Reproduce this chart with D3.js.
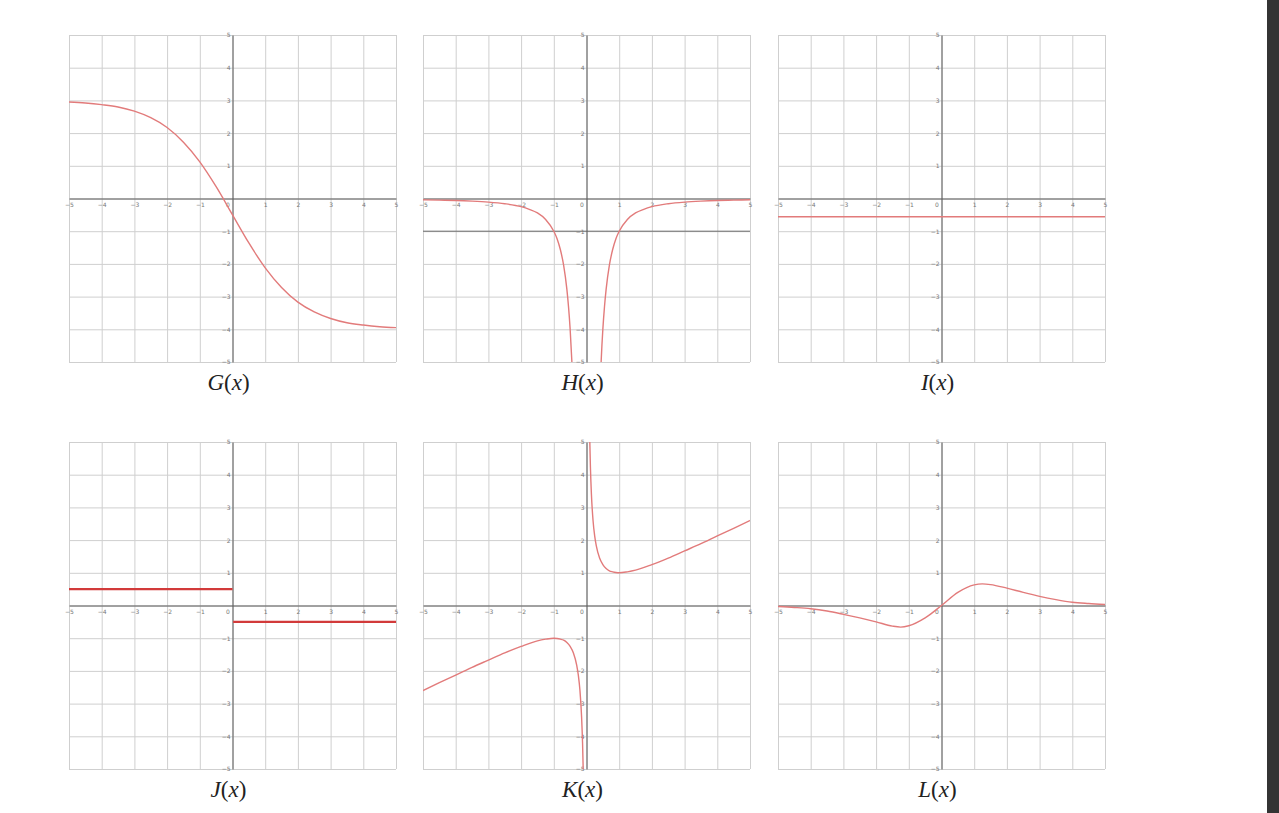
<!DOCTYPE html>
<html>
<head>
<meta charset="utf-8">
<script src="https://cdn.jsdelivr.net/npm/d3@7"></script>
<style>
  body { margin: 0; background: #fff; }
  .grid line { stroke: #cfcfcf; stroke-width: 1; }
  .grid path { display: none; }
  .lbl text { font-family: "DejaVu Sans", sans-serif; font-size: 6px; fill: #777; }
  .lbl line { display: none; }
  .lbl path { stroke: #5a5a5a; stroke-width: 1; }
  .title { font-family: "Liberation Serif", "DejaVu Serif", serif; font-size: 23px; fill: #222; }
</style>
</head>
<body>
<script>
// Panel names and tick values
var names = ["G", "H", "I", "J", "K", "L"];
var ticks = [-5, -4, -3, -2, -1, 0, 1, 2, 3, 4, 5];

// G(x): smooth step from 3 down to -4
var gX = [-5, -4.5, -4, -3.5, -3, -2.5, -2, -1.5, -1, -0.5, 0, 0.5, 1, 1.5, 2, 2.5, 3, 3.5, 4, 4.5, 5];
var gY = [2.95, 2.92, 2.87, 2.8, 2.67, 2.47, 2.17, 1.72, 1.12, 0.36, -0.5, -1.36, -2.12, -2.72, -3.17, -3.47, -3.67, -3.8, -3.87, -3.92, -3.95];

// H(x): two branches dropping to -infinity at 0
var hLeftX = [-5, -4.5, -4, -3.5, -3, -2.5, -2, -1.75, -1.5, -1.25, -1, -0.9, -0.8, -0.7, -0.6, -0.55, -0.5, -0.45, -0.43];
var hLeftY = [-0.04, -0.05, -0.06, -0.08, -0.11, -0.16, -0.25, -0.33, -0.44, -0.64, -1, -1.23, -1.56, -2.04, -2.78, -3.31, -4, -4.94, -5.41];
var hRightX = [0.43, 0.45, 0.5, 0.55, 0.6, 0.7, 0.8, 0.9, 1, 1.25, 1.5, 1.75, 2, 2.5, 3, 3.5, 4, 4.5, 5];
var hRightY = [-5.41, -4.94, -4, -3.31, -2.78, -2.04, -1.56, -1.23, -1, -0.64, -0.44, -0.33, -0.25, -0.16, -0.11, -0.08, -0.06, -0.05, -0.04];

// I(x): constant
var iX = [-5, 5];
var iY = [-0.56, -0.56];

// J(x): two flat pieces
var jLeftX = [-5, 0];
var jLeftY = [0.5, 0.5];
var jRightX = [0.02, 5];
var jRightY = [-0.5, -0.5];

// K(x): two branches with vertical asymptote at 0
var kRightX = [0.1, 0.12, 0.15, 0.2, 0.25, 0.3, 0.4, 0.5, 0.6, 0.7, 0.8, 0.9, 1, 1.25, 1.5, 2, 2.5, 3, 3.5, 4, 4.5, 5];
var kRightY = [5.05, 4.23, 3.41, 2.6, 2.13, 1.82, 1.45, 1.25, 1.13, 1.06, 1.03, 1.01, 1, 1.03, 1.08, 1.25, 1.45, 1.67, 1.89, 2.13, 2.36, 2.6];
var kLeftX = [-5, -4.5, -4, -3.5, -3, -2.5, -2, -1.5, -1.25, -1, -0.9, -0.8, -0.7, -0.6, -0.5, -0.4, -0.3, -0.25, -0.2, -0.15, -0.12, -0.1];
var kLeftY = [-2.6, -2.36, -2.13, -1.89, -1.67, -1.45, -1.25, -1.08, -1.03, -1, -1.01, -1.03, -1.06, -1.13, -1.25, -1.45, -1.82, -2.13, -2.6, -3.41, -4.23, -5.05];

// L(x): odd bump
var lX = [-5, -4.5, -4, -3.5, -3, -2.5, -2, -1.5, -1.25, -1, -0.5, 0, 0.5, 1, 1.25, 1.5, 2, 2.5, 3, 3.5, 4, 4.5, 5];
var lY = [-0.03, -0.06, -0.1, -0.17, -0.27, -0.38, -0.5, -0.63, -0.66, -0.62, -0.38, 0, 0.4, 0.63, 0.66, 0.64, 0.53, 0.4, 0.28, 0.18, 0.1, 0.06, 0.03];

function pts(xs, ys) { return xs.map((x, i) => [x, ys[i]]); }

var curves = [
  [pts(gX, gY)],
  [pts(hLeftX, hLeftY), pts(hRightX, hRightY)],
  [pts(iX, iY)],
  [pts(jLeftX, jLeftY), pts(jRightX, jRightY)],
  [pts(kLeftX, kLeftY), pts(kRightX, kRightY)],
  [pts(lX, lY)]
];

var svgWidth = 1279;
var svgHeight = 813;
var size = 327;
var colX = [69, 423, 778];
var rowY = [35, 442];

var svg = d3.select("body").append("svg")
  .attr("width", svgWidth)
  .attr("height", svgHeight);

// dark scrollbar strip on the right
svg.append("rect")
  .attr("x", 1267).attr("y", 0)
  .attr("width", 12).attr("height", svgHeight)
  .attr("fill", "#343434");

var x = d3.scaleLinear().domain([-5, 5]).range([0, size]);
var y = d3.scaleLinear().domain([-5, 5]).range([size, 0]);

var line = d3.line()
  .x(d => x(d[0]))
  .y(d => y(d[1]))
  .curve(d3.curveMonotoneX);

var fmt = d3.format("d");

names.forEach(function(name, k) {
  var g = svg.append("g")
    .attr("transform", `translate(${colX[k % 3]}, ${rowY[Math.floor(k / 3)]})`);

  g.append("clipPath").attr("id", "clip" + k)
    .append("rect").attr("width", size).attr("height", size);

  // grid
  g.append("g").attr("class", "grid")
    .attr("transform", `translate(0, ${size})`)
    .call(d3.axisBottom(x).tickValues(ticks).tickSize(-size).tickFormat(""));
  g.append("g").attr("class", "grid")
    .call(d3.axisLeft(y).tickValues(ticks).tickSize(-size).tickFormat(""));

  // darker gridline in H at y = -1
  if (name === "H") {
    g.append("line")
      .attr("x1", 0).attr("x2", size)
      .attr("y1", y(-1)).attr("y2", y(-1))
      .attr("stroke", "#6a6a6a").attr("stroke-width", 1);
  }

  // axes with tiny labels
  g.append("g").attr("class", "lbl")
    .attr("transform", `translate(0, ${y(0)})`)
    .call(d3.axisBottom(x).tickValues(ticks).tickSize(0).tickPadding(4).tickFormat(fmt))
    .selectAll("text")
    .attr("dx", d => d === 0 ? -5 : 0);
  g.append("g").attr("class", "lbl")
    .attr("transform", `translate(${x(0)}, 0)`)
    .call(d3.axisLeft(y).tickValues(ticks.filter(t => t !== 0)).tickSize(0).tickPadding(2).tickFormat(fmt));

  // curves
  var thick = name === "J";
  curves[k].forEach(function(seg) {
    g.append("path")
      .datum(seg)
      .attr("clip-path", `url(#clip${k})`)
      .attr("fill", "none")
      .attr("stroke", thick ? "#d23a3a" : "#e27b7b")
      .attr("stroke-width", thick ? 2.2 : 1.4)
      .attr("d", line);
  });

  // title
  var t = g.append("text")
    .attr("class", "title")
    .attr("x", size / 2 - 4)
    .attr("y", size + 28)
    .attr("text-anchor", "middle");
  t.append("tspan").attr("font-style", "italic").text(name);
  t.append("tspan").text("(");
  t.append("tspan").attr("font-style", "italic").text("x");
  t.append("tspan").text(")");
});
</script>
</body>
</html>
